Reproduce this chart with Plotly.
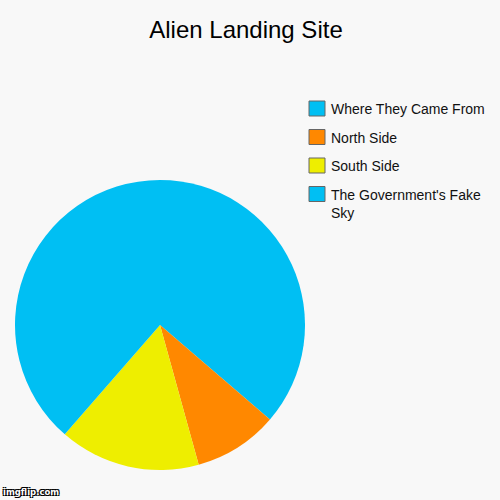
import plotly.graph_objects as go

W, H = 500, 500

labels = ["Where They Came From", "North Side", "South Side", "The Government's Fake Sky"]
legend_text = ["Where They Came From", "North Side", "South Side", "The Government's Fake<br>Sky"]
values = [36.3, 9.4, 15.7, 38.6]
colors = ["#00bff3", "#ff8800", "#eeee00", "#00bff3"]


def px_x(x):
    return x / W


def px_y(y):
    return 1 - y / H


fig = go.Figure(go.Pie(
    labels=labels,
    values=values,
    sort=False,
    direction="clockwise",
    rotation=0,
    textinfo="none",
    marker=dict(colors=colors, line=dict(width=0)),
    domain=dict(x=[px_x(15), px_x(305)], y=[px_y(470), px_y(180)]),
    showlegend=False,
))

# legend drawn by hand to get the square size and spacing of the original
shapes = []
annotations = []
for i, (txt, col) in enumerate(zip(legend_text, colors)):
    top = 101 + i * 28.5
    shapes.append(dict(
        type="rect", xref="paper", yref="paper",
        x0=px_x(309), x1=px_x(325), y0=px_y(top + 15), y1=px_y(top),
        fillcolor=col, line=dict(color="#666666", width=1),
    ))
    annotations.append(dict(
        text=txt, xref="paper", yref="paper",
        x=px_x(329), y=px_y(top - 2), xanchor="left", yanchor="top",
        showarrow=False, align="left",
        font=dict(family="Liberation Sans, Arial", size=14, color="#111111"),
    ))

annotations.append(dict(
    text="<b>imgflip.com</b>", xref="paper", yref="paper",
    x=px_x(1), y=px_y(499), xanchor="left", yanchor="bottom",
    showarrow=False,
    font=dict(family="DejaVu Sans, Arial", size=8.5, color="#ffffff",
              shadow="1px 1px 0 #000, -1px -1px 0 #000, 1px -1px 0 #000, -1px 1px 0 #000"),
))

fig.update_layout(
    width=W, height=H,
    margin=dict(l=0, r=0, t=0, b=0),
    paper_bgcolor="#f8f8f8",
    plot_bgcolor="#f8f8f8",
    title=dict(
        text="Alien Landing Site",
        x=px_x(246), y=px_y(30), xanchor="center", yanchor="middle",
        font=dict(family="Liberation Sans, Arial", size=24, color="#000000"),
    ),
    shapes=shapes,
    annotations=annotations,
)

# drop the page's default body margin so the chart sits at the top-left corner
fig.write_html("out.html", config={"displayModeBar": False},
               post_script="document.body.style.margin='0';")
